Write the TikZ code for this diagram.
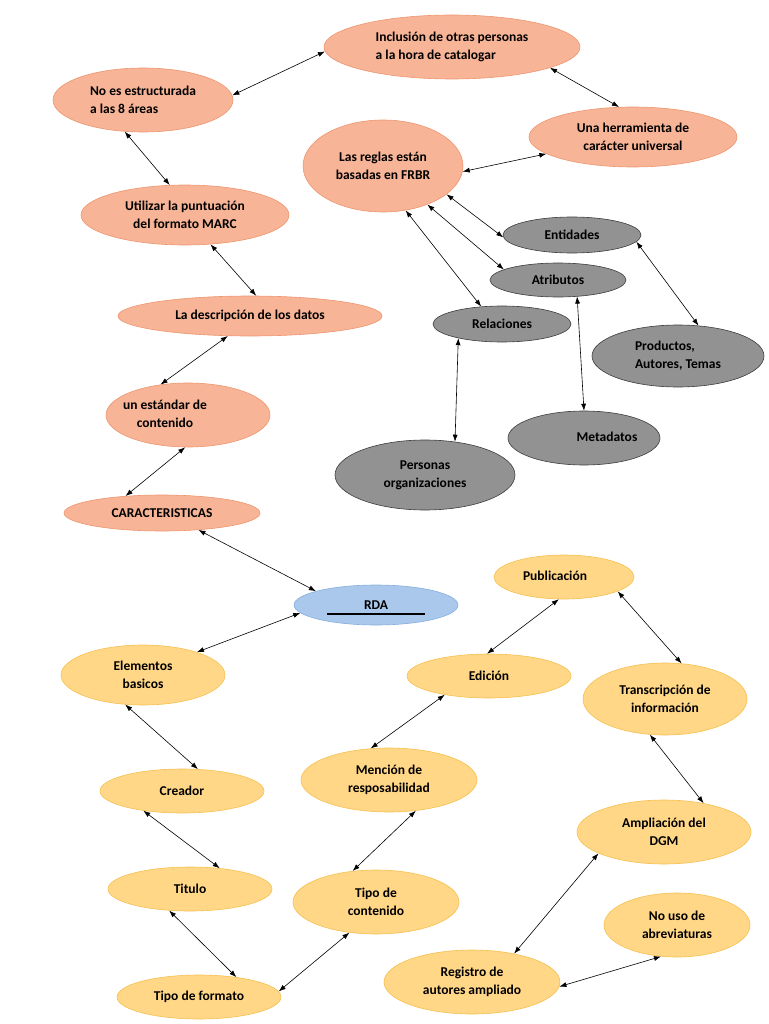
\documentclass[tikz,border=0pt]{standalone}
\usepackage{fontspec}
\setmainfont{Carlito}
\usetikzlibrary{shapes.geometric,arrows.meta}

\definecolor{salmon}{RGB}{247,180,150}
\definecolor{salmonline}{RGB}{238,150,112}
\definecolor{gris}{RGB}{146,146,146}
\definecolor{grisline}{RGB}{60,60,60}
\definecolor{azul}{RGB}{170,200,235}
\definecolor{azulline}{RGB}{135,175,222}
\definecolor{amarillo}{RGB}{255,215,135}
\definecolor{amarilloline}{RGB}{246,192,80}

% texto corrido dentro de la elipse
\newcommand{\corrida}[2]{\makebox[0pt]{\kern#1\begin{tabular}{@{}c@{}}#2\end{tabular}}}

\tikzset{
	elip/.style={ellipse, inner sep=0pt, align=center, line width=0.6pt,
		font=\fontsize{13.5}{18}\selectfont\bfseries},
	rojo/.style={elip, fill=salmon, draw=salmonline},
	gris/.style={elip, fill=gris, draw=grisline},
	azul/.style={elip, fill=azul, draw=azulline},
	amar/.style={elip, fill=amarillo, draw=amarilloline},
	flecha/.style={{Latex[length=7pt,width=5pt]}-{Latex[length=7pt,width=5pt]}, line width=0.6pt}
}

\begin{document}
\begin{tikzpicture}[x=1pt,y=-1pt]
	\useasboundingbox (0,0) rectangle (768,1024);
	% caracteristicas
	\node[rojo, minimum width=256pt, minimum height=64pt, align=left] (incl) at (452,47) {Inclusión de otras personas\\a la hora de catalogar};
	\node[rojo, minimum width=180pt, minimum height=64pt, align=left] (noes) at (143,100) {No es estructurada\\a las 8 áreas};
	\node[rojo, minimum width=160pt, minimum height=92pt] (reglas) at (383,166) {Las reglas están\\basadas en FRBR};
	\node[rojo, minimum width=208pt, minimum height=60pt] (herr) at (633,137) {Una herramienta de\\carácter universal};
	\node[rojo, minimum width=208pt, minimum height=60pt] (util) at (185,215) {Utilizar la puntuación\\del formato MARC};
	\node[rojo, minimum width=264pt, minimum height=40pt] (desc) at (250,316) {La descripción de los datos};
	\node[rojo, minimum width=164pt, minimum height=64pt] (estd) at (188,415) {\corrida{-46pt}{un estándar de\\contenido}};
	\node[rojo, minimum width=196pt, minimum height=36pt] (carac) at (162,513) {CARACTERISTICAS};
	% FRBR
	\node[gris, minimum width=138pt, minimum height=36pt] (ent) at (572,235) {Entidades};
	\node[gris, minimum width=136pt, minimum height=34pt] (atr) at (558,280) {Atributos};
	\node[gris, minimum width=138pt, minimum height=36pt] (rel) at (502,324) {Relaciones};
	\node[gris, minimum width=172pt, minimum height=62pt, align=left] (prod) at (678,356) {Productos,\\Autores, Temas};
	\node[gris, minimum width=152pt, minimum height=54pt] (meta) at (584,438) {\corrida{46pt}{Metadatos}};
	\node[gris, minimum width=180pt, minimum height=70pt] (pers) at (425,475) {Personas\\organizaciones};
	% RDA
	\node[azul, minimum width=164pt, minimum height=40pt] (rda) at (376,605) {RDA};
	\draw[line width=1.6pt] ([xshift=-49pt,yshift=-9pt]rda.center) -- ([xshift=49pt,yshift=-9pt]rda.center);
	% elementos basicos
	\node[amar, minimum width=140pt, minimum height=44pt] (publ) at (564,577) {\corrida{-18pt}{Publicación}};
	\node[amar, minimum width=164pt, minimum height=60pt] (elem) at (143,675) {Elementos\\basicos};
	\node[amar, minimum width=164pt, minimum height=44pt] (edic) at (489,676) {Edición};
	\node[amar, minimum width=164pt, minimum height=72pt] (trans) at (665,699) {Transcripción de\\información};
	\node[amar, minimum width=164pt, minimum height=44pt] (crea) at (182,791) {Creador};
	\node[amar, minimum width=176pt, minimum height=64pt] (menc) at (389,780) {Mención de\\resposabilidad};
	\node[amar, minimum width=174pt, minimum height=64pt] (ampl) at (664,832) {Ampliación del\\DGM};
	\node[amar, minimum width=164pt, minimum height=44pt] (titu) at (190,889) {Titulo};
	\node[amar, minimum width=166pt, minimum height=64pt] (cont) at (376,902) {Tipo de\\contenido};
	\node[amar, minimum width=146pt, minimum height=64pt] (nouso) at (677,925) {No uso de\\abreviaturas};
	\node[amar, minimum width=176pt, minimum height=64pt] (regi) at (472,982) {Registro de\\autores ampliado};
	\node[amar, minimum width=164pt, minimum height=44pt] (form) at (199,997) {Tipo de formato};
	% flechas
	\draw[flecha] (noes.3) -- (incl.182);
	\draw[flecha] (incl.-12) -- (herr.115);
	\draw[flecha] (herr.191) -- (reglas.-4);
	\draw[flecha] (noes.240) -- (util.117);
	\draw[flecha] (util.-49) -- (desc.73);
	\draw[flecha] (desc.222) -- (estd.132);
	\draw[flecha] (estd.265) -- (carac.155);
	\draw[flecha] (carac.-25) -- (rda.167);
	\draw[flecha] (reglas.-24) -- (ent.182);
	\draw[flecha] (reglas.-41) -- (atr.169);
	\draw[flecha] (reglas.-63) -- (rel.140);
	\draw[flecha] (ent.-6) -- (prod.56);
	\draw[flecha] (atr.-41) -- (meta.90);
	\draw[flecha] (rel.198) -- (pers.48);
	\draw[flecha] (rda.186) -- (elem.23);
	\draw[flecha] (elem.239) -- (crea.54);
	\draw[flecha] (crea.207) -- (titu.35);
	\draw[flecha] (titu.226) -- (form.28);
	\draw[flecha] (form.4) -- (cont.229);
	\draw[flecha] (cont.127) -- (menc.-49);
	\draw[flecha] (menc.120) -- (edic.203);
	\draw[flecha] (edic.95) -- (publ.257);
	\draw[flecha] (publ.-15) -- (trans.65);
	\draw[flecha] (trans.247) -- (ampl.36);
	\draw[flecha] (ampl.198) -- (regi.34);
	\draw[flecha] (regi.-3) -- (nouso.243);
\end{tikzpicture}
\end{document}
